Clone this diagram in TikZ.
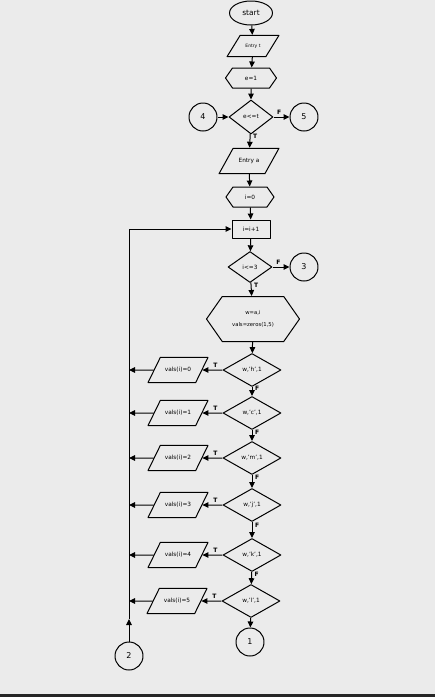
\documentclass[tikz,border=0pt]{standalone}
\usepackage{fontspec}
\setmainfont{DejaVu Sans}
\usetikzlibrary{arrows.meta,shapes.geometric,shapes.symbols}
\definecolor{paper}{RGB}{235,235,235}
\tikzset{chart/.style={
  x=1pt,y=-1pt,
  >={Triangle[length=6pt,width=5.5pt]},
  line width=1pt,line join=round,
  every node/.style={font=\fontsize{5.8}{6.8}\selectfont}
}}
\tikzset{
  term/.style={draw,ellipse,minimum width=43pt,minimum height=24pt,inner sep=0pt,font=\fontsize{7.5}{8.5}\selectfont},
  io/.style={draw,trapezium,trapezium left angle=70,trapezium right angle=110,trapezium stretches=true,minimum width=60pt,inner xsep=0pt,inner ysep=10pt},
  prep/.style={draw,signal,signal to=west and east,signal pointer angle=110,minimum width=48pt,minimum height=20pt,inner sep=0pt},
  proc/.style={draw,rectangle,minimum width=38pt,minimum height=18pt,inner sep=0pt},
  test/.style={draw,diamond,minimum width=44pt,minimum height=32pt,inner sep=0pt},
  case/.style={test,minimum width=58pt,minimum height=33pt},
  link/.style={draw,circle,minimum size=28pt,inner sep=0pt,font=\fontsize{8}{9}\selectfont},
  flag/.style={font=\fontsize{6}{7}\selectfont\bfseries,inner sep=2.5pt}
}

\begin{document}
\begin{tikzpicture}[chart]
  \fill[paper] (0,0) rectangle (435,697);
  \fill[black!85] (0,694) rectangle (435,697);
  \useasboundingbox (0,0) rectangle (435,697);
  \node[term] (start) at (251,13) {start};
  \node[io,minimum width=52pt,inner ysep=8.5pt,font=\fontsize{4.5}{5}\selectfont] (entt) at (253,46) {Entry t};
  \node[prep,minimum width=51pt] (e1) at (251,78) {e=1};
  \node[test,minimum height=34pt] (elt) at (251,117) {e<=t};
  \node[link] (c4) at (203,117) {4};
  \node[link] (c5) at (304,117) {5};
  \node[io] (enta) at (249,161) {Entry a};
  \node[prep] (i0) at (250,197) {i=0};
  \node[proc] (inc) at (251,229) {i=i+1};
  \node[test,minimum height=31pt] (ile) at (250,267) {i<=3};
  \node[link] (c3) at (304,267) {3};
  \node[prep,minimum width=93pt,minimum height=45pt,align=center,font=\fontsize{5.3}{6.3}\selectfont] (wa) at (253,319) {w=a,i\\[6pt]vals=zeros(1,5)};
  \node[case] (dh) at (252,370) {w,'h',1};
  \node[case] (dc) at (252,413) {w,'c',1};
  \node[case] (dm) at (252,458) {w,'m',1};
  \node[case] (dj) at (252,505) {w,'j',1};
  \node[case] (dk) at (252,555) {w,'k',1};
  \node[case] (dl) at (251,601) {w,'l',1};
  \node[io] (v0) at (178,370) {vals(i)=0};
  \node[io] (v1) at (178,413) {vals(i)=1};
  \node[io] (v2) at (178,458) {vals(i)=2};
  \node[io] (v3) at (178,505) {vals(i)=3};
  \node[io] (v4) at (178,555) {vals(i)=4};
  \node[io] (v5) at (177,601) {vals(i)=5};
  \node[link] (c1) at (250,642) {1};
  \node[link] (c2) at (129,656) {2};
  \coordinate (up) at (129,619);
  \coordinate (corner) at (129,229);
  % main line
  \draw[->] (start) -- (entt);
  \draw[->] (entt) -- (e1);
  \draw[->] (e1) -- (elt);
  \draw[->] (c4) -- (elt);
  \draw[->] (elt) -- (c5) node[flag,above,pos=0.35]{F};
  \draw[->] (elt) -- (enta) node[flag,right,pos=0.2]{T};
  \draw[->] (enta) -- (i0);
  \draw[->] (i0) -- (inc);
  \draw[->] (inc) -- (ile);
  \draw[->] (ile) -- (c3) node[flag,above,pos=0.35]{F};
  \draw[->] (ile) -- (wa) node[flag,right,pos=0.25]{T};
  \draw[->] (wa) -- (dh);
  \draw[->] (dh) -- (dc) node[flag,right,pos=0.2]{F};
  \draw[->] (dc) -- (dm) node[flag,right,pos=0.2]{F};
  \draw[->] (dm) -- (dj) node[flag,right,pos=0.2]{F};
  \draw[->] (dj) -- (dk) node[flag,right,pos=0.2]{F};
  \draw[->] (dk) -- (dl) node[flag,right,pos=0.2]{F};
  \draw[->] (dl) -- (c1);
  % cases
  \draw[->] (dh) -- (v0) node[flag,above,pos=0.35]{T};
  \draw[->] (dc) -- (v1) node[flag,above,pos=0.35]{T};
  \draw[->] (dm) -- (v2) node[flag,above,pos=0.35]{T};
  \draw[->] (dj) -- (v3) node[flag,above,pos=0.35]{T};
  \draw[->] (dk) -- (v4) node[flag,above,pos=0.35]{T};
  \draw[->] (dl) -- (v5) node[flag,above,pos=0.35]{T};
  \draw[->] (v0) -- (v0 -| corner);
  \draw[->] (v1) -- (v1 -| corner);
  \draw[->] (v2) -- (v2 -| corner);
  \draw[->] (v3) -- (v3 -| corner);
  \draw[->] (v4) -- (v4 -| corner);
  \draw[->] (v5) -- (v5 -| corner);
  % loop back
  \draw[->] (c2) -- (up);
  \draw (up) -- (corner);
  \draw[->] (corner) -- (inc);
\end{tikzpicture}
\end{document}
